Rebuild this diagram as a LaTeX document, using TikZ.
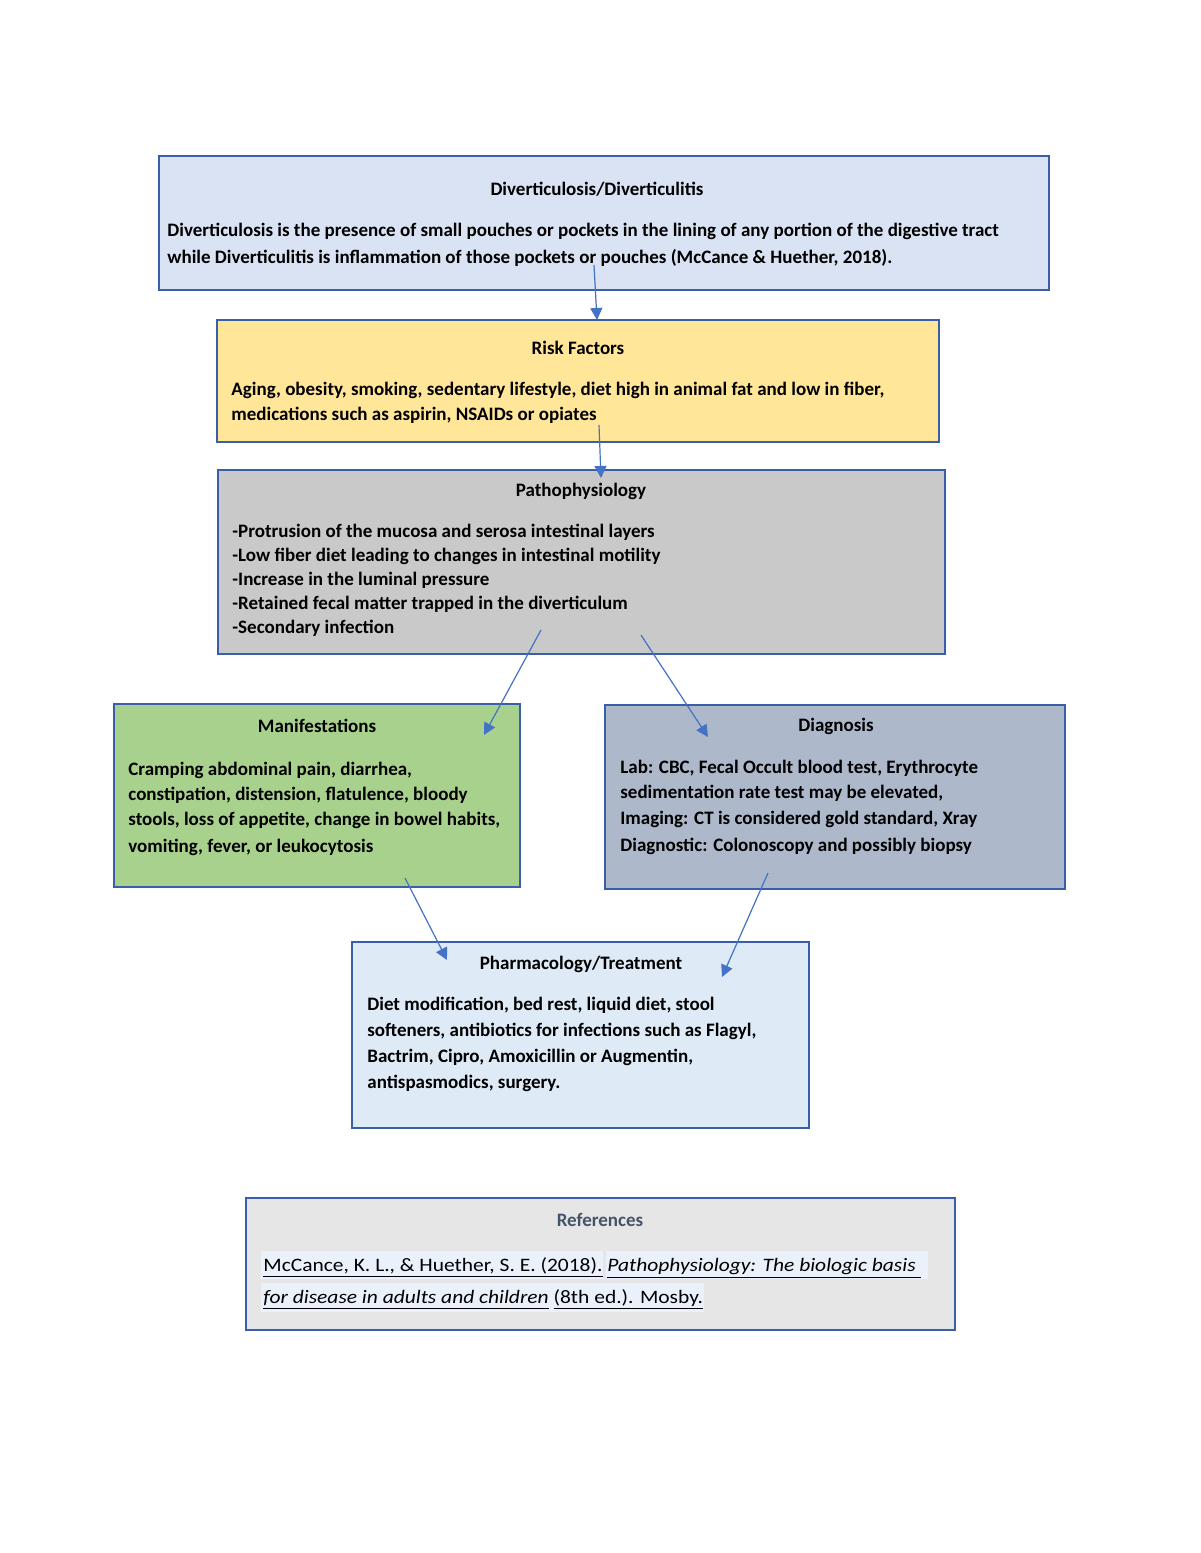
\documentclass[tikz,border=0pt]{standalone}
\usepackage{fontspec}
\usetikzlibrary{arrows.meta}
\newfontfamily\bodyfont{Carlito}
\newfontfamily\reffont{Carlito}[FakeStretch=1.13]
\definecolor{bordc}{HTML}{3B5EA8}
\definecolor{arrc}{HTML}{4472C4}
\definecolor{fTop}{HTML}{DAE3F3}
\definecolor{fRisk}{HTML}{FFE699}
\definecolor{fPat}{HTML}{C9C9C9}
\definecolor{fMan}{HTML}{A9D18E}
\definecolor{fDia}{HTML}{ADB9CA}
\definecolor{fPha}{HTML}{DEEBF7}
\definecolor{fRef}{HTML}{E7E6E6}
\definecolor{refTitle}{HTML}{44546A}
\definecolor{hilite}{HTML}{EAF1FB}
\tikzset{
  panel/.style={draw=bordc, line width=1.25pt, rectangle, inner sep=0pt},
  ttl/.style={anchor=base, inner sep=0pt, font=\bodyfont\bfseries\fontsize{9.5}{12}\selectfont},
  body/.style={anchor=base west, inner sep=0pt, font=\bodyfont\bfseries\fontsize{9.5}{12}\selectfont},
  reftxt/.style={anchor=base west, inner sep=0pt, font=\reffont\fontsize{9.5}{12}\selectfont},
  conn/.style={draw=arrc, line width=0.6pt, -{Triangle[length=6pt,width=6pt]}}
}
\begin{document}
\begin{tikzpicture}[x=0.5pt,y=-0.5pt]
\useasboundingbox[fill=white] (0,0) rectangle (1200,1553);
% panels
\node[panel, fill=fTop, minimum width=445pt, minimum height=67pt] (pTop) at (604,223) {};
\node[panel, fill=fRisk, minimum width=361pt, minimum height=61pt] (pRisk) at (578,381) {};
\node[panel, fill=fPat, minimum width=363.5pt, minimum height=92pt] (pPat) at (581.5,562) {};
\node[panel, fill=fMan, minimum width=203pt, minimum height=91.5pt] (pMan) at (317,795.5) {};
\node[panel, fill=fDia, minimum width=230pt, minimum height=92pt] (pDia) at (835,797) {};
\node[panel, fill=fPha, minimum width=228.5pt, minimum height=93pt] (pPha) at (580.5,1035) {};
\node[panel, fill=fRef, minimum width=354.5pt, minimum height=66pt] (pRef) at (600.5,1264) {};
% top
\node[ttl] (tTop) at (597,195) {Diverticulosis/Diverticulitis};
\node[body] (bTop1) at (167,236) {Diverticulosis is the presence of small pouches or pockets in the lining of any portion of the digestive tract};
\node[body] (bTop2) at (167,263) {while Diverticulitis is inflammation of those pockets or pouches (McCance \& Huether, 2018).};
% risk
\node[ttl] (tRisk) at (578,354) {Risk Factors};
\node[body] (bRisk1) at (231,395) {Aging, obesity, smoking, sedentary lifestyle, diet high in animal fat and low in fiber,};
\node[body] (bRisk2) at (231,420) {medications such as aspirin, NSAIDs or opiates};
% patho
\node[ttl] (tPat) at (581,496) {Pathophysiology};
\node[body] (bPat1) at (232,537) {-Protrusion of the mucosa and serosa intestinal layers};
\node[body] (bPat2) at (232,561) {-Low fiber diet leading to changes in intestinal motility};
\node[body] (bPat3) at (232,585) {-Increase in the luminal pressure};
\node[body] (bPat4) at (232,609) {-Retained fecal matter trapped in the diverticulum};
\node[body] (bPat5) at (232,633) {-Secondary infection};
% manifestations
\node[ttl] (tMan) at (317,732) {Manifestations};
\node[body] (bMan1) at (128,775) {Cramping abdominal pain, diarrhea,};
\node[body] (bMan2) at (128,800) {constipation, distension, flatulence, bloody};
\node[body] (bMan3) at (128,825) {stools, loss of appetite, change in bowel habits,};
\node[body] (bMan4) at (128,852) {vomiting, fever, or leukocytosis};
% diagnosis
\node[ttl] (tDia) at (836,731) {Diagnosis};
\node[body] (bDia1) at (620,773) {Lab: CBC, Fecal Occult blood test, Erythrocyte};
\node[body] (bDia2) at (620,798) {sedimentation rate test may be elevated,};
\node[body] (bDia3) at (620,824) {Imaging: CT is considered gold standard, Xray};
\node[body] (bDia4) at (620,851) {Diagnostic: Colonoscopy and possibly biopsy};
% pharmacology
\node[ttl] (tPha) at (581,969) {Pharmacology/Treatment};
\node[body] (bPha1) at (367,1010) {Diet modification, bed rest, liquid diet, stool};
\node[body] (bPha2) at (367,1036) {softeners, antibiotics for infections such as Flagyl,};
\node[body] (bPha3) at (367,1062) {Bactrim, Cipro, Amoxicillin or Augmentin,};
\node[body] (bPha4) at (367,1088) {antispasmodics, surgery.};
% references
\node[ttl, text=refTitle] (tRef) at (600,1226) {References};
\fill[hilite] (261,1251) rectangle (603,1279);
\fill[hilite] (606,1251) rectangle (928,1279);
\fill[hilite] (261,1283) rectangle (704,1312);
\node[reftxt] (bRef1) at (263,1271) {\underline{McCance, K. L., \& Huether, S. E. (2018).}\ \underline{\itshape Pathophysiology: The biologic basis\ }};
\node[reftxt] (bRef2) at (263,1303) {\underline{\itshape for disease in adults and children} \underline{(8th ed.). Mosby.}};
% connectors
\coordinate (c1s) at (594,265); \coordinate (c1e) at (597,320);
\coordinate (c2s) at (599,425); \coordinate (c2e) at (601,478);
\coordinate (c3s) at (541,630); \coordinate (c3e) at (484,735);
\coordinate (c4s) at (641,635); \coordinate (c4e) at (708,737);
\coordinate (c5s) at (405,878); \coordinate (c5e) at (447,960);
\coordinate (c6s) at (768,873); \coordinate (c6e) at (722,977);
\draw[conn] (c1s) -- (c1e);
\draw[conn] (c2s) -- (c2e);
\draw[conn] (c3s) -- (c3e);
\draw[conn] (c4s) -- (c4e);
\draw[conn] (c5s) -- (c5e);
\draw[conn] (c6s) -- (c6e);
\end{tikzpicture}
\end{document}
